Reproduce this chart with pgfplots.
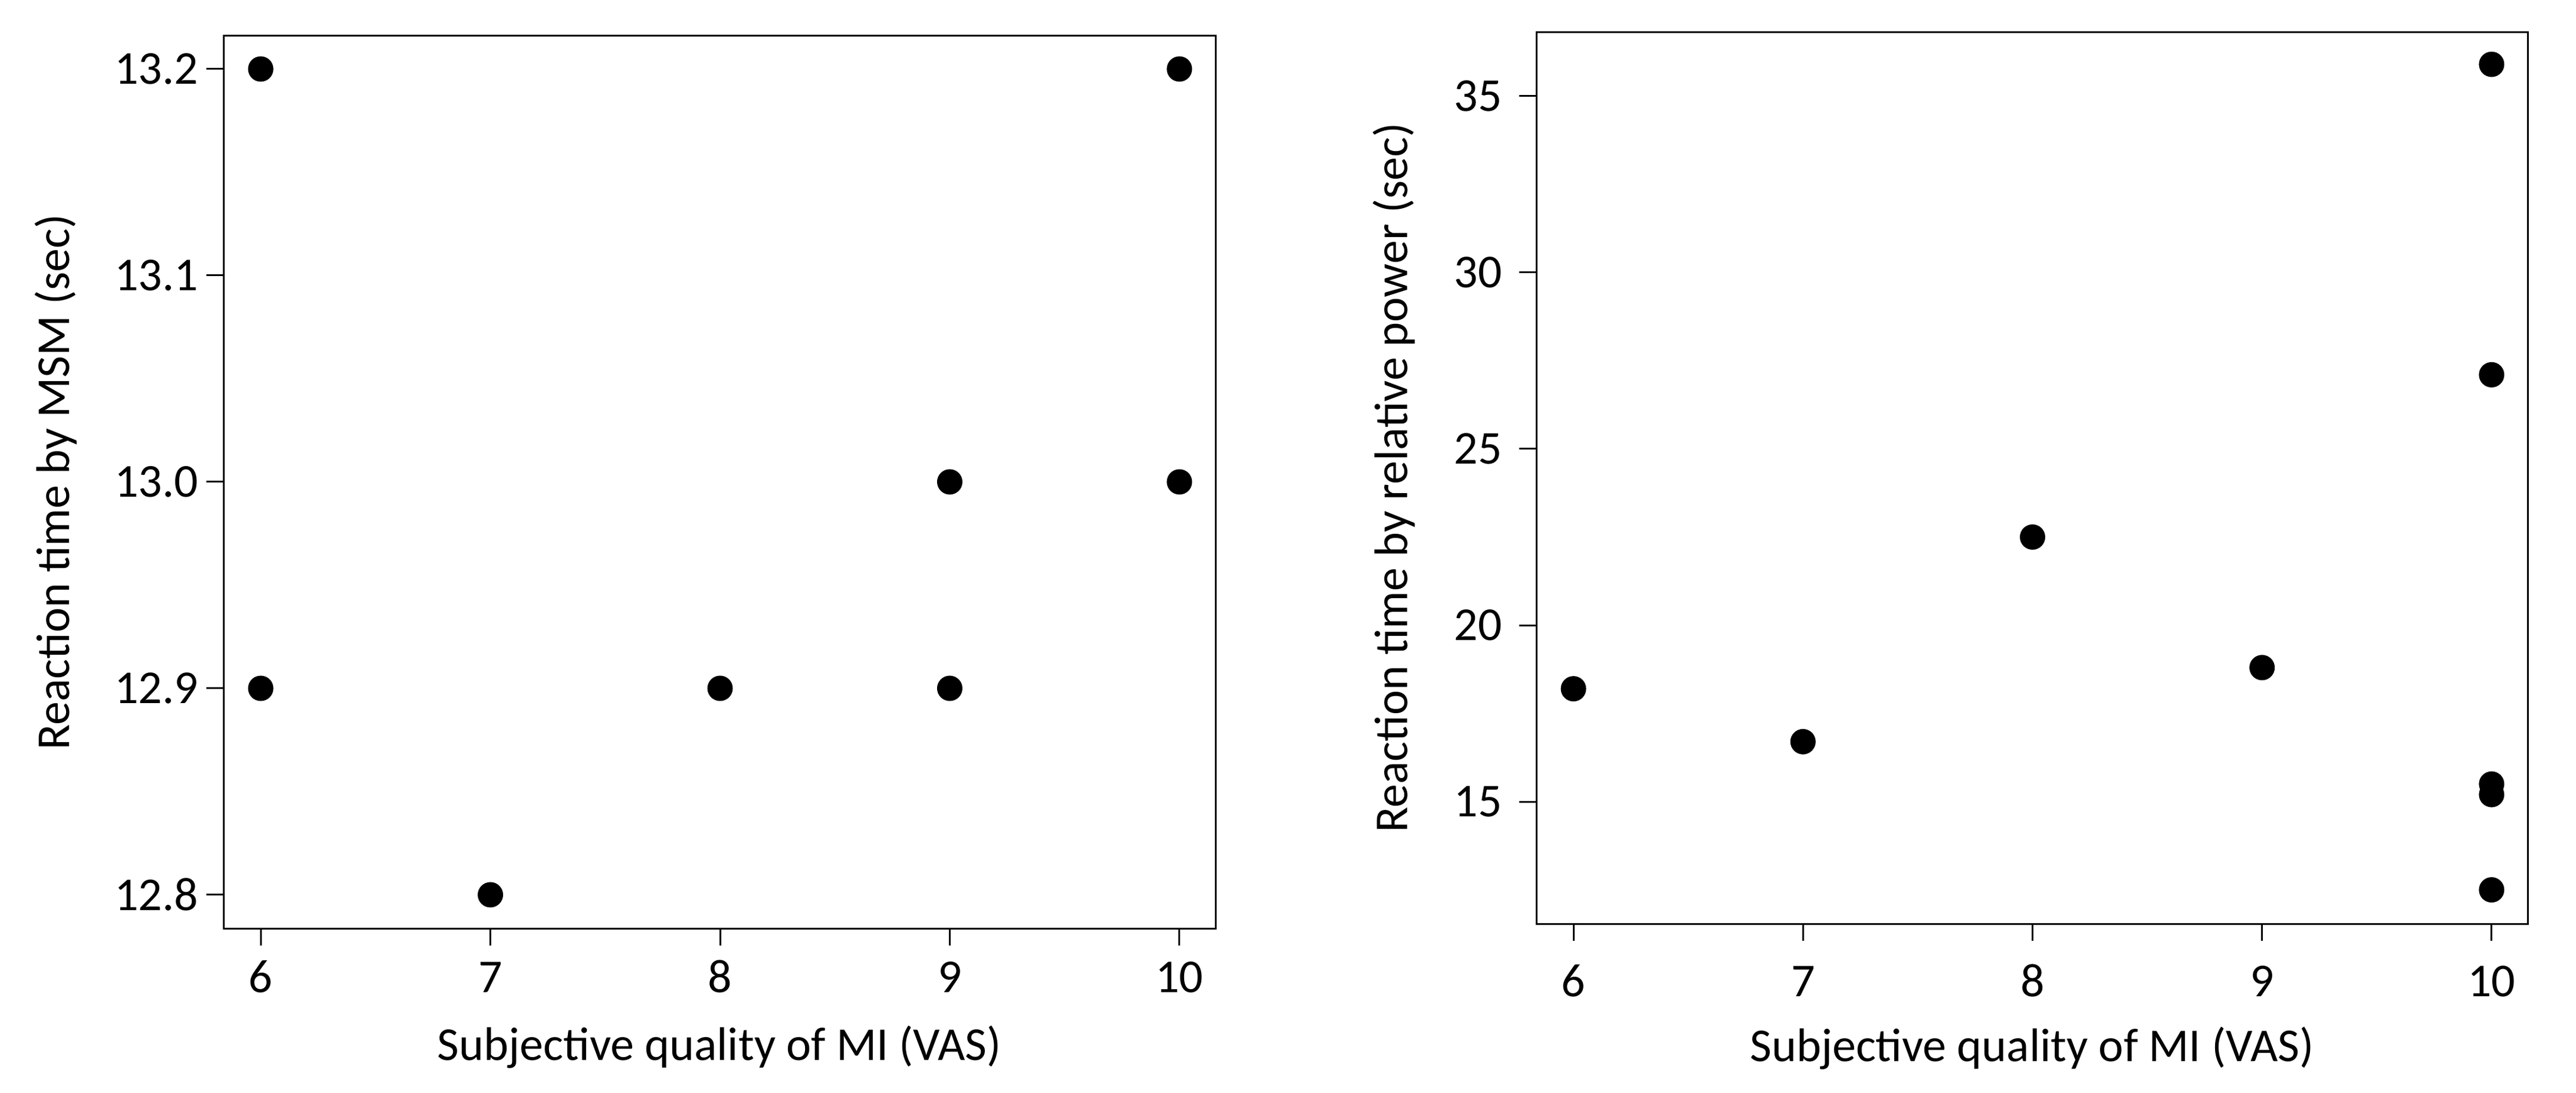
\documentclass[border=0pt]{standalone}
\usepackage{fontspec}
\setmainfont{Carlito}
\usepackage{pgfplots}
\usepackage{pgfplotstable}
\pgfplotsset{compat=1.18}
\pgfplotstableread{
x y
6 13.2
6 12.9
7 12.8
8 12.9
9 13.0
9 12.9
10 13.2
10 13.0
}\msmdata
\pgfplotstableread{
x y
6 18.2
7 16.7
8 22.5
9 18.8
10 35.9
10 27.1
10 15.5
10 15.2
10 12.5
}\powdata
\begin{document}
\begin{tikzpicture}
\useasboundingbox (0,0) rectangle (436.8pt,185.2pt);
\pgfplotsset{
  myaxis/.style={
    scale only axis,
    anchor=south west,
    axis line style={line width=0.3pt, black},
    every tick/.style={black, line width=0.3pt},
    tick align=outside,
    major tick length=2.9pt,
    xtick pos=bottom, ytick pos=left,
    xtick={6,7,8,9,10},
    xticklabels={6,7,8,9,10},
    xmin=5.838, xmax=10.157,
    font=\fontsize{8}{9.6}\selectfont,
    ticklabel style={font=\fontsize{8}{9.6}\selectfont},
    /pgf/number format/assume math mode=true,
    xticklabel style={anchor=base, inner sep=0pt},
    xlabel={Subjective quality of MI (VAS)},
    label style={font=\fontsize{8}{9.6}\selectfont, inner sep=0pt},
  },
  mymarks/.style={only marks, mark=*, mark size=2.0pt, mark options={fill=black, draw=black, line width=0.3pt}},
}
\begin{axis}[myaxis,
  at={(37.9pt,27.8pt)},
  width=168.2pt, height=151.3pt,
  ymin=12.7837, ymax=13.216,
  ytick={12.8,12.9,13.0,13.1,13.2},
  yticklabels={12.8,12.9,13.0,13.1,13.2},
  xticklabel style={yshift=-7.9pt},
  yticklabel style={anchor=east, inner sep=0pt, xshift=-1.2pt},
  xlabel style={at={(axis description cs:0.5,-0.1474)}, anchor=base},
  ylabel={Reaction time by MSM (sec)},
  ylabel style={at={(axis description cs:-0.1552,0.5)}, anchor=base, rotate=0},
]
\addplot[mymarks] table[x=x,y=y] {\msmdata};
\end{axis}
\begin{axis}[myaxis,
  at={(260.5pt,28.6pt)},
  width=168.1pt, height=151.2pt,
  ymin=11.54, ymax=36.82,
  ytick={15,20,25,30,35},
  yticklabels={15,20,25,30,35},
  xticklabel style={yshift=-9.4pt},
  yticklabel style={anchor=east, inner sep=0pt, xshift=-2.7pt},
  xlabel style={at={(axis description cs:0.5,-0.1541)}, anchor=base},
  ylabel={Reaction time by relative power (sec)},
  ylabel style={at={(axis description cs:-0.1303,0.5)}, anchor=base, rotate=0},
]
\addplot[mymarks] table[x=x,y=y] {\powdata};
\end{axis}
\end{tikzpicture}
\end{document}
